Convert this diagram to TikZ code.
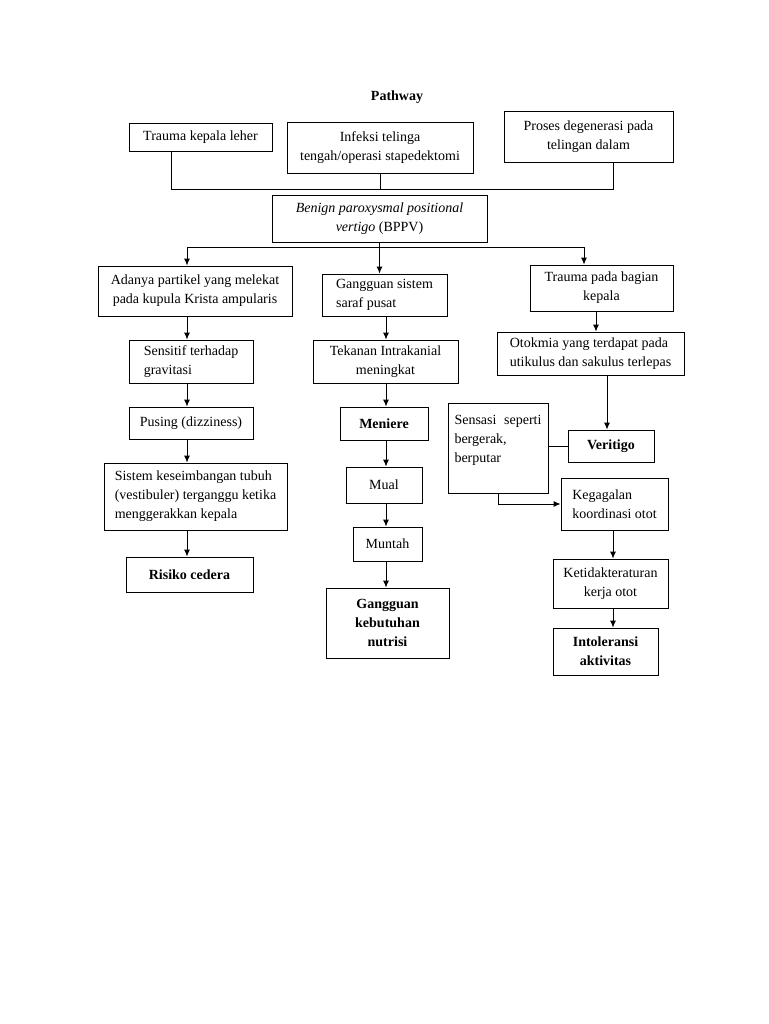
\documentclass[tikz,border=0pt]{standalone}
\usepackage{fontspec}
\setmainfont{Liberation Serif}
\usetikzlibrary{arrows.meta}
\newcommand{\pwfont}{\fontsize{14}{19}\selectfont}

\begin{document}
\begin{tikzpicture}[x=1pt, y=-1pt, line width=0.9pt, >={Latex[length=7pt,width=6pt]},
  box/.style={draw, align=center, inner sep=2pt, font=\pwfont},
  lbox/.style={box, align=left},
  bbox/.style={box, font=\pwfont\bfseries}]
\useasboundingbox (0,0) rectangle (768,1024);
\node[font=\pwfont\bfseries] (title) at (397,97) {Pathway};
% causes
\node[box, minimum width=143pt, minimum height=28pt] (tkl) at (200.5,137) {Trauma kepala leher};
\node[box, minimum width=186pt, minimum height=51pt] (infeksi) at (380,147.5) {Infeksi telinga\\tengah/operasi stapedektomi};
\node[box, minimum width=169pt, minimum height=51pt] (proses) at (588.5,136.5) {Proses degenerasi pada\\telingan dalam};
\node[box, minimum width=215pt, minimum height=47pt] (bppv) at (379.5,218.5) {\textit{Benign paroxysmal positional}\\\textit{vertigo} (BPPV)};
% left branch
\node[box, minimum width=194pt, minimum height=50pt] (partikel) at (195,291) {Adanya partikel yang melekat\\pada kupula Krista ampularis};
\node[lbox, minimum width=124pt, minimum height=43pt] (sensitif) at (191,361.5) {Sensitif terhadap\\gravitasi};
\node[lbox, minimum width=124pt, minimum height=32pt] (pusing) at (191,423) {Pusing (dizziness)};
\node[lbox, minimum width=183pt, minimum height=67pt] (keseimbangan) at (195.5,496.5) {Sistem keseimbangan tubuh\\(vestibuler) terganggu ketika\\menggerakkan kepala};
\node[bbox, minimum width=127pt, minimum height=35pt] (risiko) at (189.5,574.5) {Risiko cedera};
% middle branch
\node[lbox, minimum width=125pt, minimum height=42pt] (gss) at (384.5,295) {Gangguan sistem\\saraf pusat};
\node[box, minimum width=145pt, minimum height=43pt] (tik) at (385.5,361.5) {Tekanan Intrakanial\\meningkat};
\node[bbox, minimum width=88pt, minimum height=33pt] (meniere) at (384,423.5) {Meniere};
\node[box, minimum width=76pt, minimum height=36pt] (mual) at (384,485) {Mual};
\node[box, minimum width=69pt, minimum height=34pt] (muntah) at (387.5,544) {Muntah};
\node[bbox, minimum width=123pt, minimum height=70pt] (gkn) at (387.5,623) {Gangguan\\kebutuhan\\nutrisi};
% right branch
\node[box, minimum width=143pt, minimum height=46pt] (tpk) at (601.5,288) {Trauma pada bagian\\kepala};
\node[lbox, minimum width=187pt, minimum height=43pt] (otokmia) at (590.5,353.5) {Otokmia yang terdapat pada\\utikulus dan sakulus terlepas};
\node[lbox, text width=87pt, minimum width=100pt, minimum height=90pt] (sensasi) at (498,448) {Sensasi\hfill seperti\\bergerak,\\berputar\\~};
\node[bbox, minimum width=86pt, minimum height=32pt] (veritigo) at (611,446) {Veritigo};
\node[lbox, minimum width=107pt, minimum height=52pt] (kegagalan) at (614.5,504) {Kegagalan\\koordinasi otot};
\node[box, minimum width=115pt, minimum height=49pt] (ketidak) at (610.5,583.5) {Ketidakteraturan\\kerja otot};
\node[bbox, minimum width=105pt, minimum height=47pt] (intoleransi) at (605.5,651.5) {Intoleransi\\aktivitas};
% junctions and columns
\coordinate (jtl) at (171,189);
\coordinate (jtr) at (613,189);
\coordinate (jbl) at (187,247);
\coordinate (jbr) at (584,247);
\coordinate (colL) at (187,0);
\coordinate (colM) at (386,0);
\coordinate (colT) at (596,0);
\coordinate (colV) at (607,0);
\coordinate (colR) at (613,0);
% connectors
\draw (tkl.south -| jtl) -- (jtl) -- (jtr) -- (proses.south -| jtr);
\draw (infeksi.south) -- (infeksi.south |- jtl);
\draw (jbl) -- (jbr);
\draw[->] (bppv.south) -- (bppv.south |- gss.north);
\draw[->] (jbl) -- (partikel.north -| jbl);
\draw[->] (jbr) -- (tpk.north -| jbr);
\draw[->] (partikel.south -| colL) -- (sensitif.north -| colL);
\draw[->] (sensitif.south -| colL) -- (pusing.north -| colL);
\draw[->] (pusing.south -| colL) -- (keseimbangan.north -| colL);
\draw[->] (keseimbangan.south -| colL) -- (risiko.north -| colL);
\draw[->] (gss.south -| colM) -- (tik.north -| colM);
\draw[->] (tik.south -| colM) -- (meniere.north -| colM);
\draw[->] (meniere.south -| colM) -- (mual.north -| colM);
\draw[->] (mual.south -| colM) -- (muntah.north -| colM);
\draw[->] (muntah.south -| colM) -- (gkn.north -| colM);
\draw[->] (tpk.south -| colT) -- (otokmia.north -| colT);
\draw[->] (otokmia.south -| colV) -- (veritigo.north -| colV);
\draw (sensasi.east |- veritigo.west) -- (veritigo.west);
\draw[->] (sensasi.south) |- (kegagalan.west);
\draw[->] (kegagalan.south -| colR) -- (ketidak.north -| colR);
\draw[->] (ketidak.south -| colR) -- (intoleransi.north -| colR);
\end{tikzpicture}
\end{document}
